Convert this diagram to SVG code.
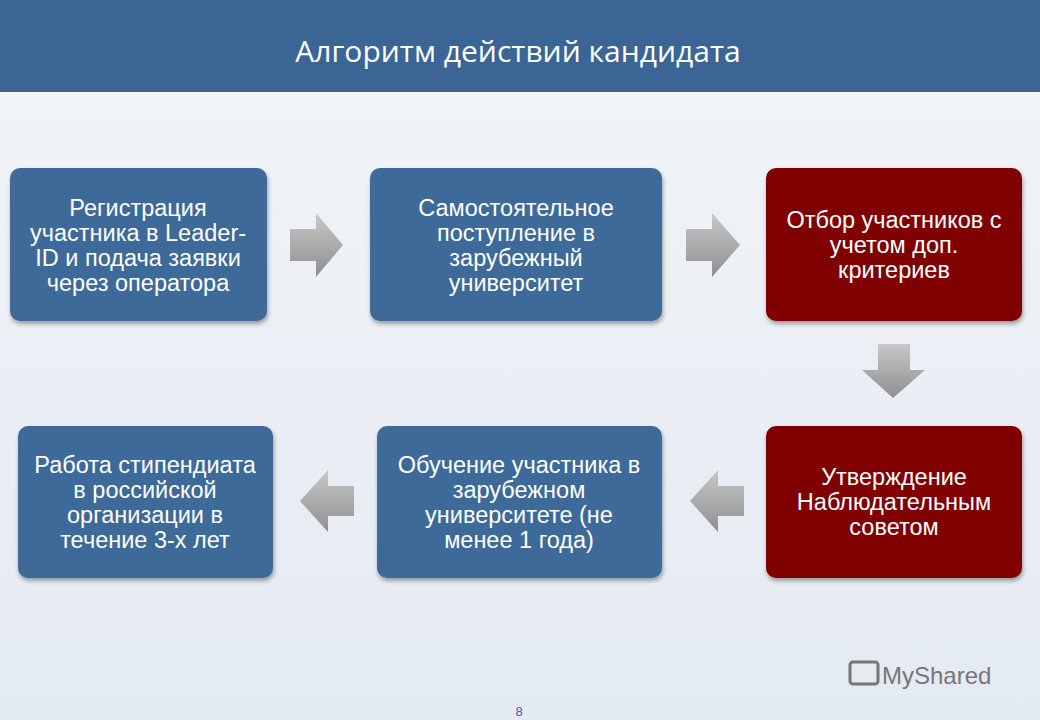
<svg xmlns="http://www.w3.org/2000/svg" width="1040" height="720" viewBox="0 0 1040 720">
<defs>
<linearGradient id="bg" x1="0" y1="0" x2="0" y2="1"><stop offset="0" stop-color="#f2f5f9"/><stop offset="1" stop-color="#e4eaf1"/></linearGradient>
<linearGradient id="ar" x1="0" y1="0" x2="0" y2="1"><stop offset="0" stop-color="#c8c8c8"/><stop offset="1" stop-color="#8f8f8f"/></linearGradient>
<filter id="sh" x="-10%" y="-10%" width="120%" height="130%"><feDropShadow dx="1" dy="3" stdDeviation="2" flood-opacity="0.35"/></filter>
</defs>
<style>
.blue{fill:#3c6a99;filter:url(#sh)}
.red{fill:#800000;filter:url(#sh)}
.t{font-family:"Liberation Sans",Arial,sans-serif;font-size:23.5px;fill:#fff;text-anchor:middle}
.arrow{fill:url(#ar)}
</style>
<rect width="1040" height="720" fill="url(#bg)"/>
<rect width="1040" height="92" fill="#3a6594"/>
<text x="518" y="62" font-family="'Open Sans','Liberation Sans',sans-serif" font-size="30" fill="#fff" text-anchor="middle">Алгоритм действий кандидата</text>
<g id="n1"><rect class="blue" x="10" y="168" width="257" height="153" rx="10"/>
<text class="t"><tspan x="138" y="216">Регистрация</tspan><tspan x="138" y="241">участника в Leader-</tspan><tspan x="138" y="266">ID и подача заявки</tspan><tspan x="138" y="291">через оператора</tspan></text></g>
<g id="n2"><rect class="blue" x="370" y="168" width="292" height="153" rx="10"/>
<text class="t"><tspan x="516" y="216">Самостоятельное</tspan><tspan x="516" y="241">поступление в</tspan><tspan x="516" y="266">зарубежный</tspan><tspan x="516" y="291">университет</tspan></text></g>
<g id="n3"><rect class="red" x="766" y="168" width="256" height="153" rx="10"/>
<text class="t"><tspan x="894" y="228">Отбор участников с</tspan><tspan x="894" y="253">учетом доп.</tspan><tspan x="894" y="278">критериев</tspan></text></g>
<g id="n4"><rect class="red" x="766" y="426" width="256" height="152" rx="10"/>
<text class="t"><tspan x="894" y="485">Утверждение</tspan><tspan x="894" y="510">Наблюдательным</tspan><tspan x="894" y="535">советом</tspan></text></g>
<g id="n5"><rect class="blue" x="377" y="426" width="285" height="152" rx="10"/>
<text class="t"><tspan x="519" y="473">Обучение участника в</tspan><tspan x="519" y="498">зарубежном</tspan><tspan x="519" y="523">университете (не</tspan><tspan x="519" y="548">менее 1 года)</tspan></text></g>
<g id="n6"><rect class="blue" x="18" y="426" width="255" height="152" rx="10"/>
<text class="t"><tspan x="145" y="473">Работа стипендиата</tspan><tspan x="145" y="498">в российской</tspan><tspan x="145" y="523">организации в</tspan><tspan x="145" y="548">течение 3-х лет</tspan></text></g>
<g id="connectors">
<polygon class="arrow" points="290,229 316,229 316,213 343,245 316,277 316,261 290,261"/>
<polygon class="arrow" points="686,229 712,229 712,213 740,245 712,277 712,261 686,261"/>
<polygon class="arrow" points="878,344 910,344 910,370 925,370 893,398 862,370 878,370"/>
<polygon class="arrow" points="744,486 718,486 718,470 690,501 718,532 718,516 744,516"/>
<polygon class="arrow" points="354,486 328,486 328,470 300,501 328,532 328,516 354,516"/>
</g>
<g id="logo">
<rect x="850" y="662" width="28" height="22" rx="3" fill="none" stroke="#777" stroke-width="3"/>
<text x="882" y="684" font-family="'Liberation Sans',Arial,sans-serif" font-size="24" fill="#777">MyShared</text>
</g>
<text x="519" y="716" font-family="'Liberation Sans',Arial,sans-serif" font-size="13" fill="#3a6594" text-anchor="middle">8</text>
</svg>
